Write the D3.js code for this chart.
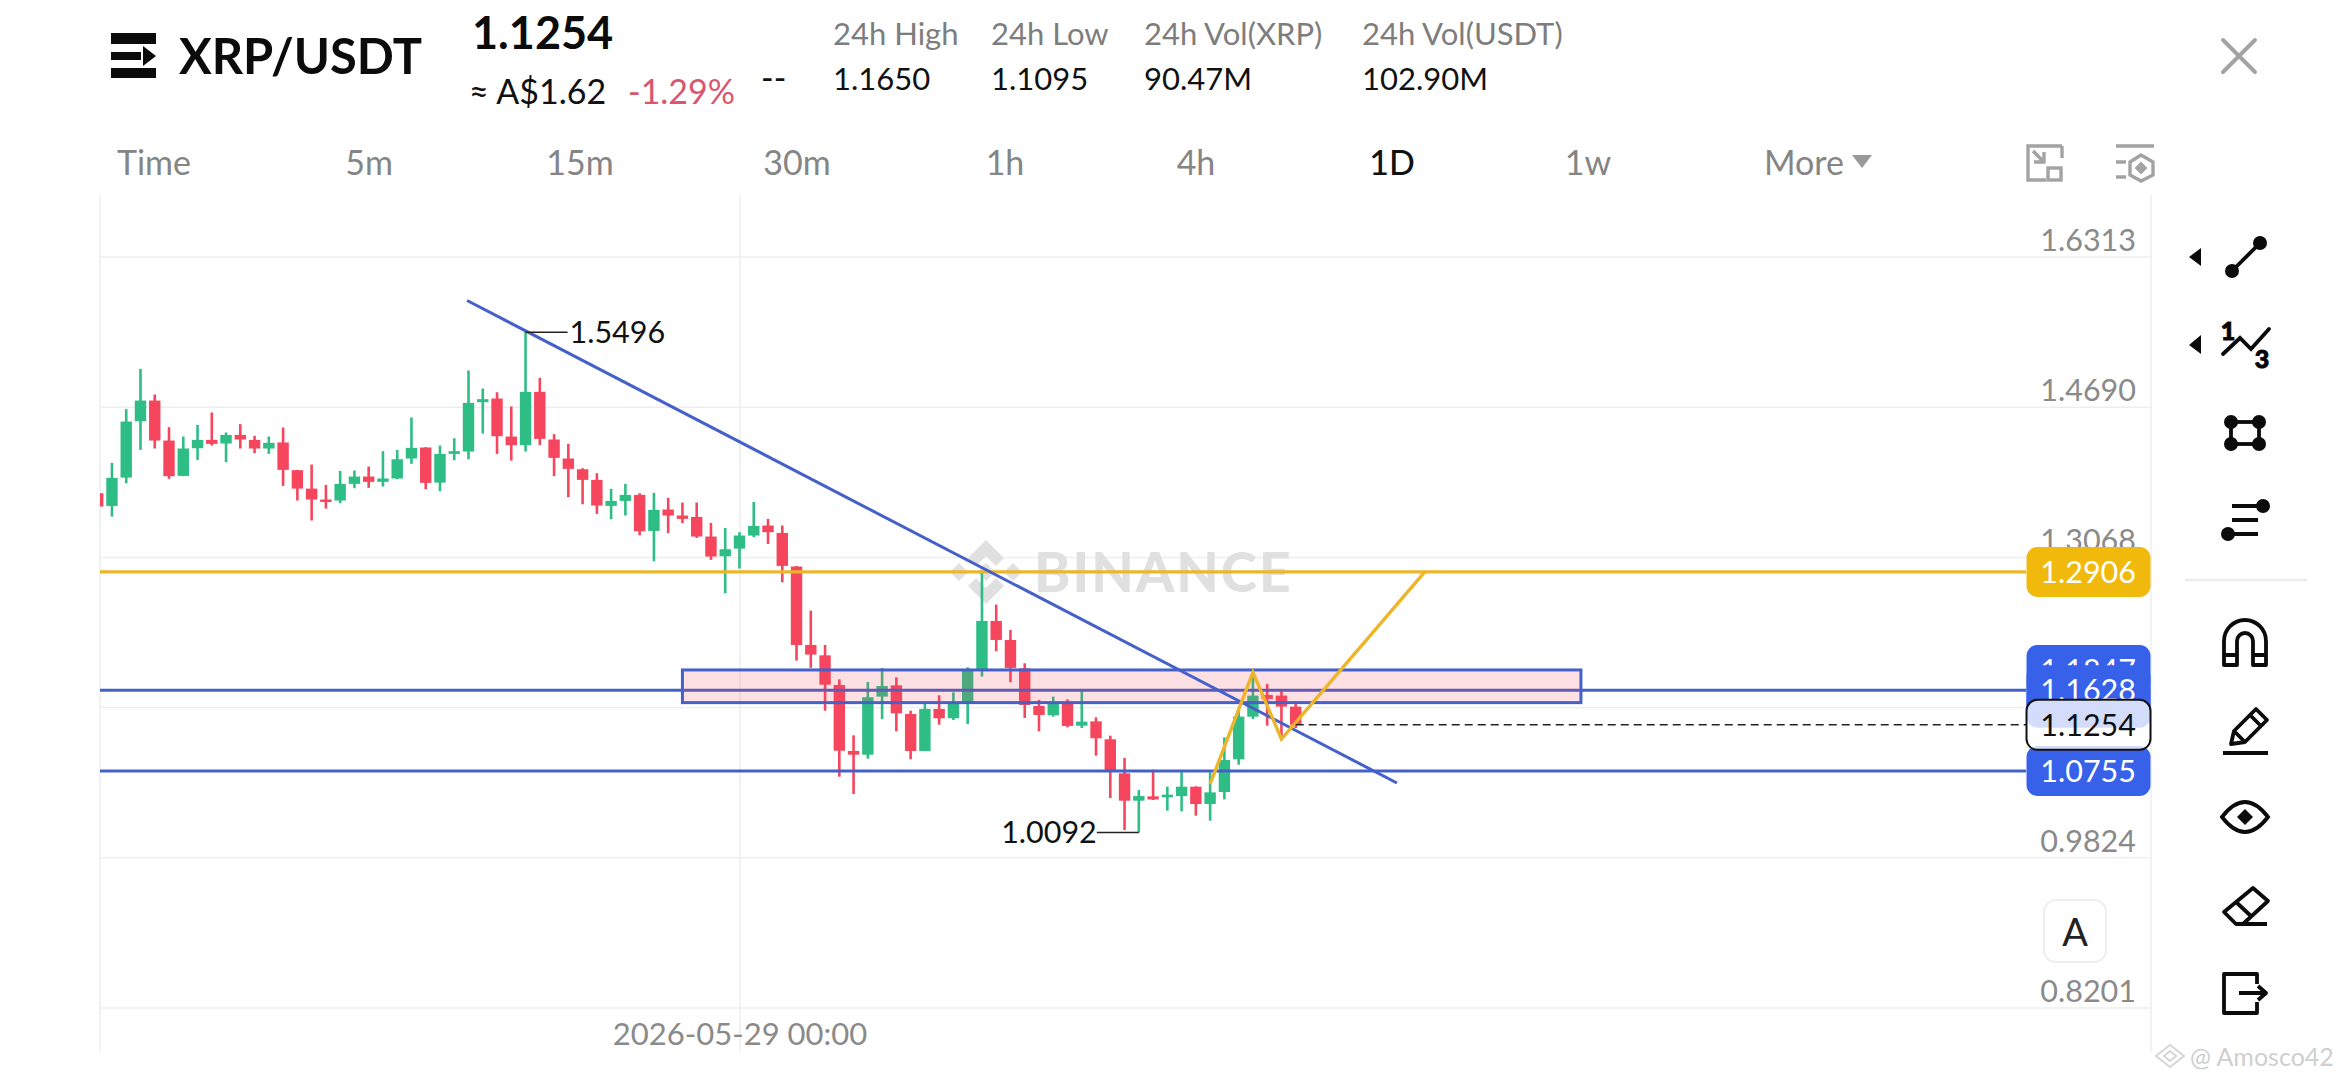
<!DOCTYPE html>
<html>
<head>
<meta charset="utf-8">
<title>XRP/USDT</title>
<script src="https://cdn.jsdelivr.net/npm/d3@7/dist/d3.min.js"></script>
<style>
  html, body { margin: 0; padding: 0; background: #fff; overflow: hidden; }
  text { font-family: Lato, "Open Sans", sans-serif; }
</style>
</head>
<body>
<div id="chart"></div>
<script>
// daily candles, one per column, first one is cut by the left edge
const candleIdx = d3.range(-1, 84);
const opens = [1.3756,1.3619,1.3925,1.4534,1.4757,1.4325,1.3943,1.4242,1.4332,1.4293,1.4386,1.4332,1.4239,1.4304,1.4005,1.3806,1.3688,1.3677,1.3857,1.3936,1.3879,1.3915,1.4131,1.4250,1.3871,1.4181,1.4206,1.4739,1.4779,1.4368,1.4275,1.4851,1.4336,1.4131,1.4015,1.3900,1.3619,1.3673,1.3738,1.3349,1.3580,1.3515,1.3500,1.3288,1.3075,1.3158,1.3299,1.3407,1.3327,1.2964,1.2117,1.2005,1.1685,1.0972,1.0932,1.1559,1.1681,1.1371,1.0972,1.1426,1.1325,1.1498,1.1840,1.2376,1.2171,1.1865,1.1458,1.1357,1.1480,1.1245,1.1292,1.1098,1.0730,1.0435,1.0482,1.0471,1.0485,1.0586,1.0399,1.0529,1.0882,1.1343,1.1577,1.1570,1.1451];
const highs = [1.3821,1.4084,1.4664,1.5100,1.4822,1.4469,1.4368,1.4494,1.4628,1.4412,1.4502,1.4376,1.4368,1.4466,1.4008,1.4066,1.3846,1.3997,1.4001,1.4044,1.4210,1.4224,1.4574,1.4253,1.4271,1.4350,1.5082,1.4887,1.4847,1.4693,1.5496,1.5002,1.4394,1.4289,1.4026,1.3972,1.3803,1.3857,1.3756,1.3760,1.3706,1.3655,1.3655,1.3435,1.3381,1.3335,1.3662,1.3479,1.3407,1.2971,1.2488,1.2117,1.1746,1.1141,1.1717,1.1869,1.1768,1.1407,1.1480,1.1573,1.1606,1.1876,1.2902,1.2553,1.2279,1.1919,1.1523,1.1559,1.1530,1.1624,1.1335,1.1137,1.0896,1.0550,1.0770,1.0586,1.0759,1.0590,1.0741,1.1119,1.1425,1.1804,1.1696,1.1642,1.1508];
const lows = [1.3551,1.3504,1.3864,1.4224,1.4239,1.3911,1.3940,1.4116,1.4271,1.4091,1.4239,1.4188,1.4181,1.3835,1.3677,1.3461,1.3590,1.3648,1.3810,1.3814,1.3828,1.3907,1.4073,1.3799,1.3778,1.4113,1.4123,1.4401,1.4181,1.4109,1.4206,1.4275,1.3940,1.3713,1.3637,1.3533,1.3475,1.3515,1.3302,1.3021,1.3324,1.3432,1.3273,1.3036,1.2675,1.2942,1.3281,1.3208,1.2794,1.1948,1.1869,1.1407,1.0694,1.0507,1.0889,1.1317,1.1184,1.0882,1.0972,1.1256,1.1307,1.1263,1.1775,1.2049,1.1714,1.1328,1.1184,1.1343,1.1227,1.1220,1.0921,1.0464,1.0118,1.0092,1.0442,1.0327,1.0320,1.0273,1.0219,1.0449,1.0824,1.1317,1.1245,1.1112,1.1220];
const closes = [1.3612,1.3922,1.4530,1.4757,1.4325,1.3940,1.4239,1.4332,1.4289,1.4386,1.4336,1.4239,1.4300,1.4008,1.3806,1.3688,1.3662,1.3857,1.3936,1.3879,1.3915,1.4123,1.4246,1.3868,1.4181,1.4210,1.4732,1.4772,1.4372,1.4275,1.4851,1.4343,1.4138,1.4019,1.3900,1.3623,1.3673,1.3738,1.3345,1.3576,1.3515,1.3479,1.3288,1.3072,1.3151,1.3299,1.3403,1.3335,1.2971,1.2117,1.2013,1.1688,1.0975,1.0932,1.1552,1.1674,1.1379,1.0972,1.1426,1.1325,1.1490,1.1840,1.2376,1.2171,1.1869,1.1469,1.1361,1.1480,1.1242,1.1289,1.1109,1.0759,1.0435,1.0485,1.0449,1.0500,1.0586,1.0399,1.0525,1.0874,1.1343,1.1570,1.1534,1.1451,1.1254];

const priceTicks = [1.6313, 1.4690, 1.3068, 1.1446, 0.9824, 0.8201];
const dateTickIdx = 44;
const dateTickLabel = "2026-05-29 00:00";

// drawings on the chart, [candle index, price]
const trendLine = [[24.9, 1.5838], [90.1, 1.0626]];
const zigzag = [[77, 1.0615], [80, 1.1821], [82, 1.1101], [92.05, 1.2906]];
const boxX = [40.0, 103.0];
const boxPrice = [1.1847, 1.1494];
const yellowLevel = 1.2906;
const blueLevels = [1.1628, 1.0755];
const lastPrice = 1.1254;
const highMark = { idx: 29, price: 1.5496, label: "1.5496" };
const lowMark = { idx: 72, price: 1.0092, label: "1.0092" };

const tabs = ["Time", "5m", "15m", "30m", "1h", "4h", "1D", "1w"];
const tabCenters = [154, 369, 580, 797, 1005, 1196, 1392, 1588];
const statLabels = ["24h High", "24h Low", "24h Vol(XRP)", "24h Vol(USDT)"];
const statValues = ["1.1650", "1.1095", "90.47M", "102.90M"];
const statX = [833, 991, 1144, 1362];

const GREEN = "#2ebd85", RED = "#f6465d", BLUE = "#4560c8", YELLOW = "#ecb52a", TAGBLUE = "#3861ea";
const W = 2340, H = 1080;
const plotLeft = 100, plotRight = 2151, tagX = 2026, plotTop = 195, plotBottom = 1052;

const svg = d3.select("#chart").append("svg")
  .attr("width", W).attr("height", H)
  .attr("viewBox", [0, 0, W, H])
  .style("display", "block");

const x = d3.scaleLinear().domain([-1, 83]).range([97.7, 1295.7]);
const y = d3.scaleLinear().domain([0.8201, 1.6313]).range([1007.5, 256.5]);

svg.append("clipPath").attr("id", "plot")
  .append("rect").attr("x", plotLeft).attr("y", plotTop).attr("width", plotRight - plotLeft).attr("height", plotBottom - plotTop);

// frame
svg.append("g").selectAll("line").data([plotLeft, plotRight]).join("line")
  .attr("x1", d => d).attr("x2", d => d).attr("y1", plotTop).attr("y2", plotBottom)
  .attr("stroke", "#eeeeee").attr("stroke-width", 1.5);

// price axis, labels sit above their grid line
const yAxis = svg.append("g")
  .attr("transform", `translate(${plotRight},0)`)
  .call(d3.axisLeft(y).tickValues(priceTicks).tickFormat(d3.format(".4f")).tickSize(plotRight - plotLeft));
yAxis.select(".domain").remove();
yAxis.selectAll(".tick line").attr("stroke", "#eeeeee").attr("stroke-width", 1.5);
yAxis.selectAll(".tick text")
  .attr("x", -15).attr("dy", -6).attr("text-anchor", "end")
  .attr("fill", "#8a8a8a").attr("font-size", 30.5);

// date axis
const xAxis = svg.append("g")
  .attr("transform", `translate(0,${plotTop})`)
  .call(d3.axisBottom(x).tickValues([dateTickIdx]).tickFormat(() => dateTickLabel).tickSize(plotBottom - plotTop));
xAxis.select(".domain").remove();
xAxis.selectAll(".tick line").attr("stroke", "#eeeeee").attr("stroke-width", 1.5);
xAxis.selectAll(".tick text")
  .attr("y", 850).attr("dy", 0)
  .attr("fill", "#8a8a8a").attr("font-size", 31);

// watermark
const wm = svg.append("g").attr("fill", "#e0e0e0").attr("transform", "translate(986,572)");
wm.append("path").attr("d", "M0 -32 L18 -14 L10 -6 L0 -16 L-10 -6 L-18 -14 Z M-36 0 L-27 -9 L-18 0 L-27 9 Z M36 0 L27 -9 L18 0 L27 9 Z M0 -9 L9 0 L0 9 L-9 0 Z M0 32 L18 14 L10 6 L0 16 L-10 6 L-18 14 Z");
svg.append("text").attr("x", 1034).attr("y", 592).attr("font-size", 55).attr("font-weight", 900)
  .attr("fill", "#e0e0e0").attr("letter-spacing", 2).text("BINANCE");

// candles
const rows = candleIdx.map((idx, i) => ({ idx, o: opens[i], h: highs[i], l: lows[i], c: closes[i] }));
const candleColor = d => d.c >= d.o ? GREEN : RED;
const bodyW = 11.4;
const candles = svg.append("g").attr("clip-path", "url(#plot)")
  .selectAll("g").data(rows).join("g");
candles.append("line")
  .attr("x1", d => x(d.idx)).attr("x2", d => x(d.idx))
  .attr("y1", d => y(d.h)).attr("y2", d => y(d.l))
  .attr("stroke", candleColor).attr("stroke-width", 2.6);
candles.append("rect")
  .attr("x", d => x(d.idx) - bodyW / 2).attr("width", bodyW)
  .attr("y", d => y(Math.max(d.o, d.c)))
  .attr("height", d => Math.max(2.5, Math.abs(y(d.o) - y(d.c))))
  .attr("fill", candleColor);

const lineGen = d3.line().x(d => x(d[0])).y(d => y(d[1]));

// level lines
svg.append("g").selectAll("line").data(blueLevels).join("line")
  .attr("x1", plotLeft).attr("x2", tagX).attr("y1", d => y(d)).attr("y2", d => y(d))
  .attr("stroke", BLUE).attr("stroke-width", 3);
svg.append("line")
  .attr("x1", plotLeft).attr("x2", tagX).attr("y1", y(yellowLevel)).attr("y2", y(yellowLevel))
  .attr("stroke", YELLOW).attr("stroke-width", 3.4);

// box zone
svg.append("rect")
  .attr("x", x(boxX[0])).attr("width", x(boxX[1]) - x(boxX[0]))
  .attr("y", y(boxPrice[0])).attr("height", y(boxPrice[1]) - y(boxPrice[0]))
  .attr("fill", "rgba(246,70,93,0.17)").attr("stroke", BLUE).attr("stroke-width", 3);

svg.append("path").attr("d", lineGen(trendLine)).attr("fill", "none")
  .attr("stroke", BLUE).attr("stroke-width", 3);
svg.append("path").attr("d", lineGen(zigzag)).attr("fill", "none")
  .attr("stroke", YELLOW).attr("stroke-width", 3.4);

// last price dashed line
svg.append("line")
  .attr("x1", x(83)).attr("x2", tagX).attr("y1", y(lastPrice)).attr("y2", y(lastPrice))
  .attr("stroke", "#222").attr("stroke-width", 1.5).attr("stroke-dasharray", "8 5");

// high / low marks
svg.append("line").attr("x1", x(highMark.idx)).attr("x2", x(highMark.idx) + 42)
  .attr("y1", y(highMark.price)).attr("y2", y(highMark.price)).attr("stroke", "#222").attr("stroke-width", 1.5);
svg.append("text").attr("x", x(highMark.idx) + 44).attr("y", y(highMark.price) + 11)
  .attr("font-size", 30.5).attr("fill", "#111").text(highMark.label);
svg.append("line").attr("x1", x(lowMark.idx)).attr("x2", x(lowMark.idx) - 42)
  .attr("y1", y(lowMark.price)).attr("y2", y(lowMark.price)).attr("stroke", "#222").attr("stroke-width", 1.5);
svg.append("text").attr("x", x(lowMark.idx) - 42).attr("y", y(lowMark.price) + 11)
  .attr("font-size", 30.5).attr("fill", "#111").attr("text-anchor", "end").text(lowMark.label);

// price tags on the axis, order matters: they overlap
const tagData = [
  { p: boxPrice[0], label: "1.1847", fill: TAGBLUE, text: "#fff" },
  { p: boxPrice[1], label: "", fill: TAGBLUE, text: "#fff" },
  { p: blueLevels[0], label: "1.1628", fill: TAGBLUE, text: "#fff" },
  { p: blueLevels[1], label: "1.0755", fill: TAGBLUE, text: "#fff" },
  { p: yellowLevel, label: "1.2906", fill: "#f0b90b", text: "#fff" },
  { p: lastPrice, label: "1.1254", fill: "rgba(255,255,255,0.78)", text: "#111", stroke: "#111" }
];
const tags = svg.append("g").selectAll("g").data(tagData).join("g")
  .attr("transform", d => `translate(${tagX},${y(d.p)})`);
tags.append("rect").attr("x", 0.5).attr("y", -25).attr("width", 124).attr("height", 50).attr("rx", 11)
  .attr("fill", d => d.fill).attr("stroke", d => d.stroke || "none").attr("stroke-width", 2);
tags.append("text").attr("x", 110).attr("y", 11).attr("text-anchor", "end")
  .attr("font-size", 30.5).attr("fill", d => d.text).text(d => d.label);

// auto scale button
svg.append("rect").attr("x", 2044).attr("y", 900).attr("width", 62).attr("height", 62).attr("rx", 12)
  .attr("fill", "#fff").attr("stroke", "#eeeeee").attr("stroke-width", 2);
svg.append("text").attr("x", 2075).attr("y", 946).attr("text-anchor", "middle")
  .attr("font-size", 38).attr("fill", "#222").text("A");

// header
svg.append("path").attr("fill", "#0b0b0b")
  .attr("d", "M111 33H156V44H111Z M111 52H141V60H111Z M111 68H156V78H111Z M143 46L156 56L143 66Z");
svg.append("text").attr("x", 179).attr("y", 74).attr("font-size", 48.8).attr("font-weight", 700).attr("fill", "#0b0b0b").text("XRP/USDT");
svg.append("text").attr("x", 472).attr("y", 49).attr("font-size", 45).attr("font-weight", 700).attr("fill", "#0b0b0b").text("1.1254");
svg.append("text").attr("x", 469).attr("y", 104).attr("font-size", 34).attr("fill", "#111").text("≈ A$1.62");
svg.append("text").attr("x", 628).attr("y", 104).attr("font-size", 34).attr("fill", "#d9566e").text("-1.29%");
svg.append("text").attr("x", 761).attr("y", 90).attr("font-size", 34).attr("fill", "#111").text("--");

svg.append("g").selectAll("text").data(statLabels).join("text")
  .attr("x", (d, i) => statX[i]).attr("y", 45).attr("font-size", 31).attr("fill", "#7d7d7d").text(d => d);
svg.append("g").selectAll("text").data(statValues).join("text")
  .attr("x", (d, i) => statX[i]).attr("y", 90).attr("font-size", 31).attr("fill", "#111").text(d => d);

// timeframe tabs
svg.append("g").selectAll("text").data(tabs).join("text")
  .attr("x", (d, i) => tabCenters[i]).attr("y", 175).attr("text-anchor", "middle")
  .attr("font-size", 34).attr("font-weight", d => d === "1D" ? 500 : 400)
  .attr("fill", d => d === "1D" ? "#111" : "#858585").text(d => d);
svg.append("text").attr("x", 1764).attr("y", 175).attr("font-size", 34).attr("fill", "#858585").text("More");
svg.append("path").attr("d", "M1852 155H1872L1862 168Z").attr("fill", "#9a9a9a");

// top right icons, grey
const grey = svg.append("g").attr("fill", "none").attr("stroke", "#a3a3a3").attr("stroke-width", 3.4);
grey.append("path").attr("d", "M2223 40L2255 72M2255 40L2223 72").attr("stroke-width", 4).attr("stroke-linecap", "round");
grey.append("path").attr("d", "M2062 146H2028V180H2046M2062 146V158");
grey.append("rect").attr("x", 2048).attr("y", 168).attr("width", 13).attr("height", 12);
grey.append("path").attr("d", "M2033 151L2044 162M2034 162H2044V152");
grey.append("path").attr("d", "M2116 146H2154M2116 162H2126M2116 177H2126");
grey.append("path").attr("d", "M2141 155L2153 162V175L2141 181L2130 175V162Z");
grey.append("path").attr("d", "M2141 164L2145 168L2141 172L2137 168Z").attr("fill", "#a3a3a3");

// drawing tools column
const tool = svg.append("g").attr("fill", "none").attr("stroke", "#0b0b0b").attr("stroke-width", 3.8);
const solid = svg.append("g").attr("fill", "#0b0b0b");
solid.append("path").attr("d", "M2201 248V266L2189 257Z M2201 335V354L2189 345Z");
// line tool
tool.append("path").attr("d", "M2232 271L2260 243");
solid.selectAll(".a").data([[2232, 271], [2260, 243]]).join("circle").attr("cx", d => d[0]).attr("cy", d => d[1]).attr("r", 7);
// fib tool
tool.append("path").attr("d", "M2223 354L2240 338L2251 349L2269 329").attr("stroke-linecap", "round");
svg.append("text").attr("x", 2228).attr("y", 340).attr("text-anchor", "middle").attr("font-size", 25).attr("font-weight", 900).attr("stroke", "#0b0b0b").text("1");
svg.append("text").attr("x", 2262).attr("y", 368).attr("text-anchor", "middle").attr("font-size", 25).attr("font-weight", 900).attr("stroke", "#0b0b0b").text("3");
// rectangle tool
tool.append("rect").attr("x", 2231).attr("y", 422).attr("width", 28).attr("height", 22);
solid.selectAll(".b").data([[2231, 422], [2259, 422], [2231, 444], [2259, 444]]).join("circle").attr("cx", d => d[0]).attr("cy", d => d[1]).attr("r", 7);
// parallel lines tool
tool.append("path").attr("d", "M2232 506H2262M2232 520H2258M2228 534H2258");
solid.selectAll(".c").data([[2263, 506], [2228, 534]]).join("circle").attr("cx", d => d[0]).attr("cy", d => d[1]).attr("r", 7);
// divider
svg.append("line").attr("x1", 2185).attr("x2", 2307).attr("y1", 580).attr("y2", 580).attr("stroke", "#ececec").attr("stroke-width", 2.5);
// magnet
tool.append("path").attr("d", "M2224 665V641A21 21 0 0 1 2266 641V665H2253V641A8 8 0 0 0 2237 641V665ZM2224 655H2237M2253 655H2266").attr("stroke-linejoin", "round");
// pencil
tool.append("path").attr("d", "M2231 744L2234 731L2256 709L2267 720L2245 742ZM2250 715L2261 726M2234 731L2245 742").attr("stroke-linejoin", "round");
tool.append("path").attr("d", "M2223 753H2268").attr("stroke-width", 4);
// eye
tool.append("path").attr("d", "M2222 817Q2245 787 2268 817Q2245 847 2222 817Z");
solid.append("path").attr("d", "M2245 809L2253 817L2245 825L2237 817Z");
// eraser
tool.append("path").attr("d", "M2224 912L2253 888L2268 901L2243 924H2236ZM2236 902L2252 917M2236 924H2267").attr("stroke-linejoin", "round");
// exit
tool.append("path").attr("d", "M2257 984V974H2224V1013H2257V1002M2239 993H2265M2258 986L2266 993L2258 1000").attr("stroke-linejoin", "round");

// source watermark, bottom right
svg.append("path").attr("d", "M2170 1045L2184 1056L2170 1067L2156 1056Z M2170 1051L2176 1056L2170 1061L2164 1056Z")
  .attr("fill", "none").attr("stroke", "#d6d6d6").attr("stroke-width", 2);
svg.append("text").attr("x", 2190).attr("y", 1066).attr("font-size", 25).attr("fill", "#cfcfcf").text("@ Amosco42");
</script>
</body>
</html>
